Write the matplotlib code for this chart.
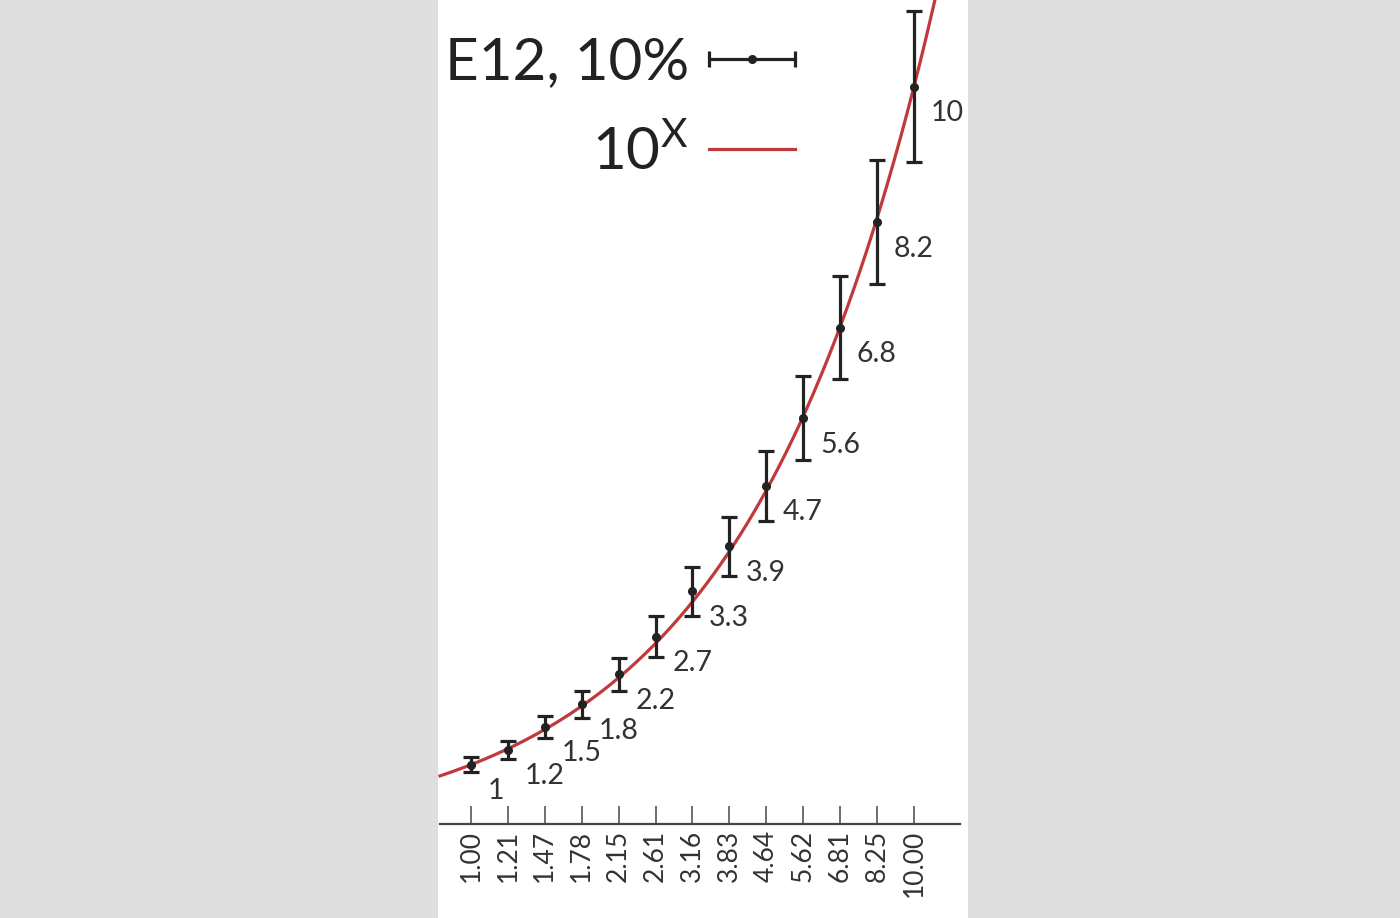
import numpy as np
import matplotlib
matplotlib.use("Agg")
import matplotlib.pyplot as plt
from matplotlib.legend_handler import HandlerErrorbar

plt.rcParams['font.family'] = ['Lato', 'DejaVu Sans']
plt.rcParams['mathtext.fontset'] = 'custom'
plt.rcParams['mathtext.rm'] = 'Lato'

# E12 series values and the ideal 10^(k/12) tick labels
e12 = [1, 1.2, 1.5, 1.8, 2.2, 2.7, 3.3, 3.9, 4.7, 5.6, 6.8, 8.2, 10]
e12_labels = ["1", "1.2", "1.5", "1.8", "2.2", "2.7", "3.3", "3.9", "4.7", "5.6", "6.8", "8.2", "10"]
tick_labels = ["1.00", "1.21", "1.47", "1.78", "2.15", "2.61", "3.16",
               "3.83", "4.64", "5.62", "6.81", "8.25", "10.00"]
tolerance = 0.10

ink = '#222222'
red = '#c0393b'

fig = plt.figure(figsize=(14, 9.18), dpi=100, facecolor='#dedede')
ax = fig.add_axes([438 / 1400, 0, 530 / 1400, 1], facecolor='white')

xpos = np.arange(len(e12)) / 12
yerr = np.array(e12) * tolerance

# ideal curve
xc = np.linspace(-0.07, 1.06, 300)
ax.plot(xc, 10 ** xc, color=red, lw=2.3, zorder=2)

ax.errorbar(xpos, e12, yerr=yerr, fmt='o', color=ink, ms=5.5,
            elinewidth=2.3, capsize=6, capthick=2.3, zorder=3)

for x, y, lab in zip(xpos, e12, e12_labels):
    ax.annotate(lab, (x, y), xytext=(12, -19), textcoords='offset points',
                ha='left', va='center', fontsize=20.5, color='#333333')

# legend proxies
proxy_eb = ax.errorbar([0.5], [np.nan], xerr=[0.1], fmt='o', color=ink, ms=5.5,
                       elinewidth=2.3, capsize=6, capthick=2.3)
proxy_ln, = ax.plot([], [], color=red, lw=2.3)
leg = ax.legend([proxy_eb, proxy_ln], ['E12, 10%', r'$10^{\mathrm{X}}$'],
                handler_map={type(proxy_eb): HandlerErrorbar(xerr_size=0.74)},
                loc='upper right', bbox_to_anchor=(795 / 1400, 1 - 36 / 918),
                bbox_transform=fig.transFigure, frameon=False, markerfirst=False,
                fontsize=42, handlelength=1.47, handletextpad=0.35,
                labelspacing=0.6, borderpad=0, borderaxespad=0)
for t in leg.get_texts():
    t.set_color(ink)

ax.set_xlim(-0.0745, 1.122)
ax.set_ylim(-1.035, 11.15)

for s in ['top', 'right', 'left']:
    ax.spines[s].set_visible(False)
ax.spines['bottom'].set_position(('data', 0.21))
ax.spines['bottom'].set_bounds(-0.070, 1.104)
ax.spines['bottom'].set_color('#444444')
ax.spines['bottom'].set_linewidth(1.6)

ax.set_yticks([])
ax.set_xticks(xpos)
ax.set_xticklabels(tick_labels, rotation=90, fontsize=19, color='#333333')
ax.tick_params(axis='x', direction='in', length=13, width=1.2, color='#555555', pad=4)

fig.savefig('out.png', dpi=100, facecolor=fig.get_facecolor())
